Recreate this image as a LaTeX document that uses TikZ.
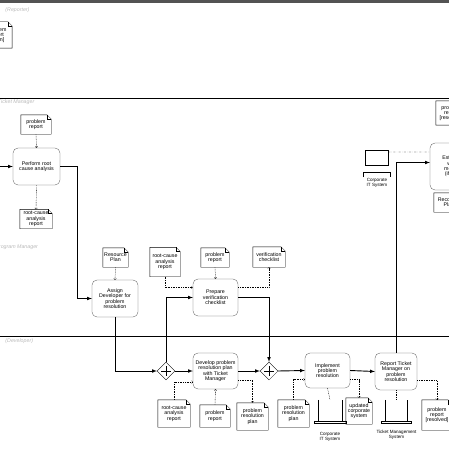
\documentclass[tikz,border=0pt]{standalone}
\usepackage{fontspec}
\setmainfont{Liberation Sans}
\usepackage{tikz}
\usetikzlibrary{shapes.geometric,arrows}

\newcommand{\bpmfont}{\fontsize{7.5}{7.6}\selectfont}
\newcommand{\sysfont}{\fontsize{6.5}{6.8}\selectfont}

\begin{document}
\begin{tikzpicture}[x=0.05cm, y=-0.05cm,
    task/.style={rectangle, draw=gray!60!black, rounded corners=0.25cm, minimum width=2.3cm, minimum height=1.85cm, align=center, inner sep=1pt, font=\bpmfont},
    doc/.style={rectangle, minimum width=1.5cm, minimum height=0.95cm, align=center, inner sep=1pt, font=\bpmfont},
    gate/.style={diamond, draw, thin, minimum width=0.9cm, minimum height=0.9cm, inner sep=0pt},
    sysbox/.style={rectangle, minimum width=1.2cm, minimum height=1.05cm, inner sep=0pt},
    syslabel/.style={align=center, font=\sysfont},
    seq/.style={-latex, line width=1.3pt},
    dots/.style={dash pattern=on 1.2pt off 1.2pt, line width=0.55pt},
    assoc/.style={->, dots},
    lanelabel/.style={anchor=west, font=\bpmfont\itshape, text=gray!55}
]
    \useasboundingbox (0,0) rectangle (449,449);
    \clip (0,0) rectangle (449,449);

    % lanes
    \fill[gray!65!black] (0,0) rectangle (449,3);
    \draw[line width=1pt] (0,98) -- (449,98);
    \draw[line width=1pt] (0,336) -- (449,336);
    \node[lanelabel] (lreporter) at (3,10) {(Reporter)};
    \node[lanelabel] (lticket) at (-4.5,102) {Ticket Manager};
    \node[lanelabel] (lprogram) at (-7,247) {Program Manager};
    \node[lanelabel] (ldev) at (3,341) {(Developer)};

    % tasks
    \node[task, minimum width=2.35cm] (perform) at (36.5,166.5) {Perform root\\cause analysis};
    \node[task] (assign) at (115,298.5) {Assign\\Developer for\\problem\\resolution};
    \node[task, minimum width=2.25cm] (prepare) at (215.5,297.5) {Prepare\\verification\\checklist};
    \node[task, minimum width=2.25cm, minimum height=1.8cm] (develop) at (215.5,371) {Develop problem\\resolution plan\\with Ticket\\Manager};
    \node[task, minimum width=2.25cm, minimum height=1.75cm] (implement) at (327.5,370.5) {Implement\\problem\\resolution};
    \node[task, minimum width=2.1cm] (report) at (396,371.5) {Report Ticket\\Manager on\\problem\\resolution};
    \node[task, minimum height=2.35cm] (establish) at (453,166.5) {Establish\\work\\method\\(if any)};

    % gateways
    \node[gate] (gw1) at (166,371) {};
    \node[gate] (gw2) at (269,371) {};
    \foreach \g in {gw1,gw2} {
        \draw[line width=1.4pt] ([yshift=0.26cm]\g.center) -- ([yshift=-0.26cm]\g.center);
        \draw[line width=0.8pt] ([xshift=-0.24cm]\g.center) -- ([xshift=0.24cm]\g.center);
    }

    % data objects
    \node[doc, minimum height=1.3cm] (pr0) at (-3,35) {problem\\report\\{}[open]};
    \node[doc] (pr1) at (36,124.5) {problem\\report};
    \node[doc, minimum width=1.6cm] (rca1) at (36,219) {root-cause\\analysis\\report};
    \node[doc, minimum width=1.25cm] (resplan) at (115.5,257.5) {Resource\\Plan};
    \node[doc, minimum height=1.45cm] (rca2) at (165,262) {root-cause\\analysis\\report};
    \node[doc, minimum width=1.4cm] (pr2) at (215,257.5) {problem\\report};
    \node[doc, minimum width=1.6cm, minimum height=1cm] (vcheck) at (269,257) {verification\\checklist};
    \node[doc, minimum width=1.6cm, minimum height=1.35cm] (rca3) at (174,413.5) {root-cause\\analysis\\report};
    \node[doc, minimum height=1.1cm] (pr3) at (215,416) {problem\\report};
    \node[doc, minimum width=1.55cm, minimum height=1.35cm] (plan1) at (252.5,416.5) {problem\\resolution\\plan};
    \node[doc, minimum width=1.55cm, minimum height=1.35cm] (plan2) at (293.5,413.5) {problem\\resolution\\plan};
    \node[doc, minimum width=1.3cm, minimum height=1.3cm] (updsys) at (359,411) {updated\\corporate\\system};
    \node[doc, minimum height=1.5cm] (prres) at (437,415) {problem\\report\\{}[resolved]};
    \node[doc, minimum height=1.2cm] (prres2) at (451,113) {problem\\report\\{}[resolved]};
    \node[doc] (recplan) at (449,202.5) {Recovery\\Plan};
    \foreach \d in {pr0,pr1,rca1,resplan,rca2,pr2,vcheck,rca3,pr3,plan1,plan2,updsys,prres,prres2,recplan} {
        \draw[thin] (\d.north west) -- ([xshift=-0.2cm]\d.north east) -- ([yshift=-0.2cm]\d.north east) -- (\d.south east) -- (\d.south west) -- cycle;
        \draw[thin] ([xshift=-0.2cm]\d.north east) |- ([yshift=-0.2cm]\d.north east);
    }

    % systems
    \node[sysbox, draw, minimum width=1.15cm, minimum height=0.75cm] (itsys) at (376.5,157.5) {};
    \draw ([shift={(-0.1cm,-0.6cm)}]itsys.south west) -- ([shift={(-0.1cm,-0.35cm)}]itsys.south west)
        -- ([shift={(0.1cm,-0.35cm)}]itsys.south east) -- ([shift={(0.1cm,-0.6cm)}]itsys.south east);
    \node[syslabel] (itsyslabel) at (377,183) {Corporate\\IT System};
    \node[sysbox] (corpsys) at (330,410.5) {};
    \node[sysbox, minimum width=1.1cm] (ticketsys) at (396,410.5) {};
    \foreach \s in {corpsys,ticketsys} {
        \draw (\s.north west) -- (\s.south west) -- (\s.south east) -- (\s.north east);
        \draw ([xshift=-0.2cm]\s.south west) rectangle ([shift={(0.2cm,-0.12cm)}]\s.south east);
    }
    \node[syslabel] (corpsyslabel) at (330,436.5) {Corporate\\IT System};
    \node[syslabel] (ticketsyslabel) at (396.5,435) {Ticket Management\\System};

    % sequence flows
    \coordinate (start) at (-10,166.5);
    \coordinate (bend) at (77.5,298.5);
    \draw[seq] (start) -- (perform.west);
    \draw[seq] (perform.east) -| (bend) -- (assign.west);
    \draw[seq] (assign.south) |- (gw1.west);
    \draw[seq] (gw1.north) |- (prepare.west);
    \draw[seq] (gw1.east) -- (develop.west);
    \draw[seq] (prepare.east) -| (gw2.north);
    \draw[seq] (develop.east) -- (gw2.west);
    \draw[seq] (gw2.east) -- (implement.west);
    \draw[seq] (implement.east) -- (report.west);
    \draw[seq] (report.north) |- ([yshift=0.2cm]establish.west);

    % associations
    \draw[assoc] (pr1.south) -- (perform.north);
    \draw[assoc] (perform.south) -- (rca1.north);
    \draw[assoc] (resplan.south) -- (assign.north);
    \draw[assoc] (rca2.south) |- ([yshift=0.5cm]prepare.west);
    \draw[assoc] (pr2.south) -- (prepare.north);
    \draw[assoc] ([yshift=0.5cm]prepare.east) -| (vcheck.south);
    \draw[assoc] (rca3.north) |- ([yshift=-0.55cm]develop.west);
    \draw[assoc] (pr3.north) -- (develop.south);
    \draw[assoc] ([yshift=-0.45cm]develop.east) -| (plan1.north);
    \draw[assoc] (plan2.north) |- ([yshift=-0.45cm]implement.west);
    \draw[assoc] ([yshift=-0.45cm]implement.east) -| (updsys.north);
    \draw[dots] (implement.south) -- (corpsys.north);
    \draw[dots] (report.south) -- (ticketsys.north);
    \draw[assoc] ([yshift=-0.45cm]report.east) -| (prres.north);
    \draw[dash dot, line width=0.55pt] ([yshift=0.275cm]itsys.east) -- ([yshift=0.725cm]establish.west);
\end{tikzpicture}
\end{document}
